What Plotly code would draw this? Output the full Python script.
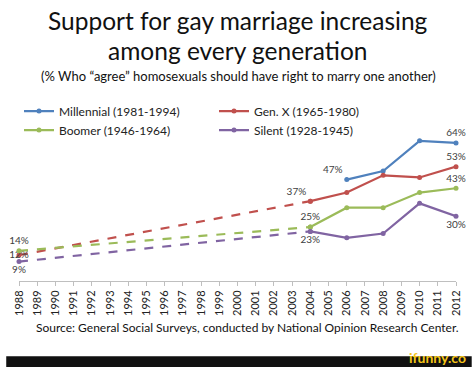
import plotly.graph_objects as go

years_early = [1988, 2004]
years_late = [2004, 2006, 2008, 2010, 2012]
mill_years = [2006, 2008, 2010, 2012]

millennial = [47, 51, 65, 64]
genx_early = [12, 37]
genx_late = [37, 41, 49, 48, 53]
boomer_early = [14, 25]
boomer_late = [25, 34, 34, 41, 43]
silent_early = [9, 23]
silent_late = [23, 20, 22, 36, 30]

names = ["Millennial (1981-1994)", "Gen. X (1965-1980)", "Boomer (1946-1964)", "Silent (1928-1945)"]
colors = ["#4F81BD", "#C0504D", "#9BBB59", "#8064A2"]

lab_font = dict(family="Lato, Open Sans, sans-serif", size=10, color="#404040")

fig = go.Figure()

def pct(v):
    return f"{v}%"

fig.add_trace(go.Scatter(x=mill_years, y=millennial, mode="lines+markers+text", name=names[0],
    legendgroup="m", line=dict(color=colors[0], width=2.2), marker=dict(size=5, color=colors[0]),
    text=[pct(millennial[0]), "", "", pct(millennial[3])],
    textposition=["top left", "top center", "top center", "top center"], textfont=lab_font,
    cliponaxis=False))

fig.add_trace(go.Scatter(x=years_late, y=genx_late, mode="lines+markers+text", name=names[1],
    legendgroup="g", line=dict(color=colors[1], width=2.2), marker=dict(size=5, color=colors[1]),
    text=[pct(genx_late[0]), "", "", "", pct(genx_late[4])],
    textposition=["top left", "top center", "top center", "top center", "top center"], textfont=lab_font,
    cliponaxis=False))

fig.add_trace(go.Scatter(x=years_late, y=boomer_late, mode="lines+markers+text", name=names[2],
    legendgroup="b", line=dict(color=colors[2], width=2.2), marker=dict(size=5, color=colors[2]),
    text=[pct(boomer_late[0]), "", "", "", pct(boomer_late[4])],
    textposition=["top center"] * 5, textfont=lab_font, cliponaxis=False))

fig.add_trace(go.Scatter(x=years_late, y=silent_late, mode="lines+markers+text", name=names[3],
    legendgroup="s", line=dict(color=colors[3], width=2.2), marker=dict(size=5, color=colors[3]),
    text=[pct(silent_late[0]), "", "", "", pct(silent_late[4])],
    textposition=["bottom center"] * 5, textfont=lab_font, cliponaxis=False))

early = [(genx_early, colors[1], "g", "middle center"),
         (boomer_early, colors[2], "b", "top center"),
         (silent_early, colors[3], "s", "bottom center")]
for vals, c, grp, pos in early:
    fig.add_trace(go.Scatter(x=years_early, y=vals, mode="lines+markers+text", legendgroup=grp,
        showlegend=False, line=dict(color=c, width=2.2, dash="dash"), marker=dict(size=5, color=c),
        text=[pct(vals[0]), ""], textposition=[pos, pos], textfont=lab_font, cliponaxis=False))

T = 129.5
B = 86.3
H = 367 - T - B
W = 474 - 13 - 16

def py(ypix):
    return (280.7 - ypix) / H

def px(xpix):
    return (xpix - 13) / W

fig.update_layout(
    width=474, height=367,
    margin=dict(l=13, r=16, t=T, b=B),
    paper_bgcolor="white", plot_bgcolor="white",
    font=dict(family="Lato, Open Sans, sans-serif", color="#222222"),
    showlegend=True,
    legend=dict(orientation="h", x=0.0, xanchor="left", y=py(96), yanchor="top",
                entrywidth=150, entrywidthmode="pixels", font=dict(size=12, color="#222222"),
                traceorder="normal", tracegroupgap=0, itemwidth=30, bgcolor="rgba(0,0,0,0)"),
    xaxis=dict(range=[1988, 2012], tickmode="array", tickvals=list(range(1988, 2013)),
               ticktext=[str(y) for y in range(1988, 2013)], tickangle=-90,
               tickfont=dict(size=11, color="#222222"), showline=True, linecolor="#BFBFBF",
               linewidth=1, ticks="outside", ticklen=4, tickcolor="#BFBFBF", showgrid=False,
               zeroline=False, fixedrange=True),
    yaxis=dict(range=[0, 70], visible=False, showgrid=False, zeroline=False),
)

fig.add_annotation(text="Support for gay marriage increasing", x=px(236.5), y=py(3), xref="paper", yref="paper",
                   xanchor="center", yanchor="top", showarrow=False, font=dict(size=24.5, color="#111111"))
fig.add_annotation(text="among every generation", x=px(236.5), y=py(33), xref="paper", yref="paper",
                   xanchor="center", yanchor="top", showarrow=False, font=dict(size=24.5, color="#111111"))
fig.add_annotation(text="(% Who “agree” homosexuals should have right to marry one another)",
                   x=px(236.5), y=py(65), xref="paper", yref="paper", xanchor="center", yanchor="top",
                   showarrow=False, font=dict(size=13, color="#111111"))
fig.add_annotation(text="Source: General Social Surveys, conducted by National Opinion Research Center.",
                   x=px(28), y=py(318), xref="paper", yref="paper", xanchor="left", yanchor="top",
                   showarrow=False, font=dict(size=12, color="#111111"))

fig.add_shape(type="rect", xref="paper", yref="paper", x0=px(0), x1=px(474),
              y0=py(367), y1=py(356), fillcolor="#111111", line=dict(width=0), layer="above")
fig.add_annotation(text="<b>ifunny.co</b>", xref="paper", yref="paper", x=px(470),
                   y=py(368), xanchor="right", yanchor="bottom", showarrow=False,
                   font=dict(size=14, color="#F5C518"))

fig.write_html("out.html", config={"displayModeBar": False},
               post_script="document.body.style.margin='0';document.body.style.overflow='hidden';")
